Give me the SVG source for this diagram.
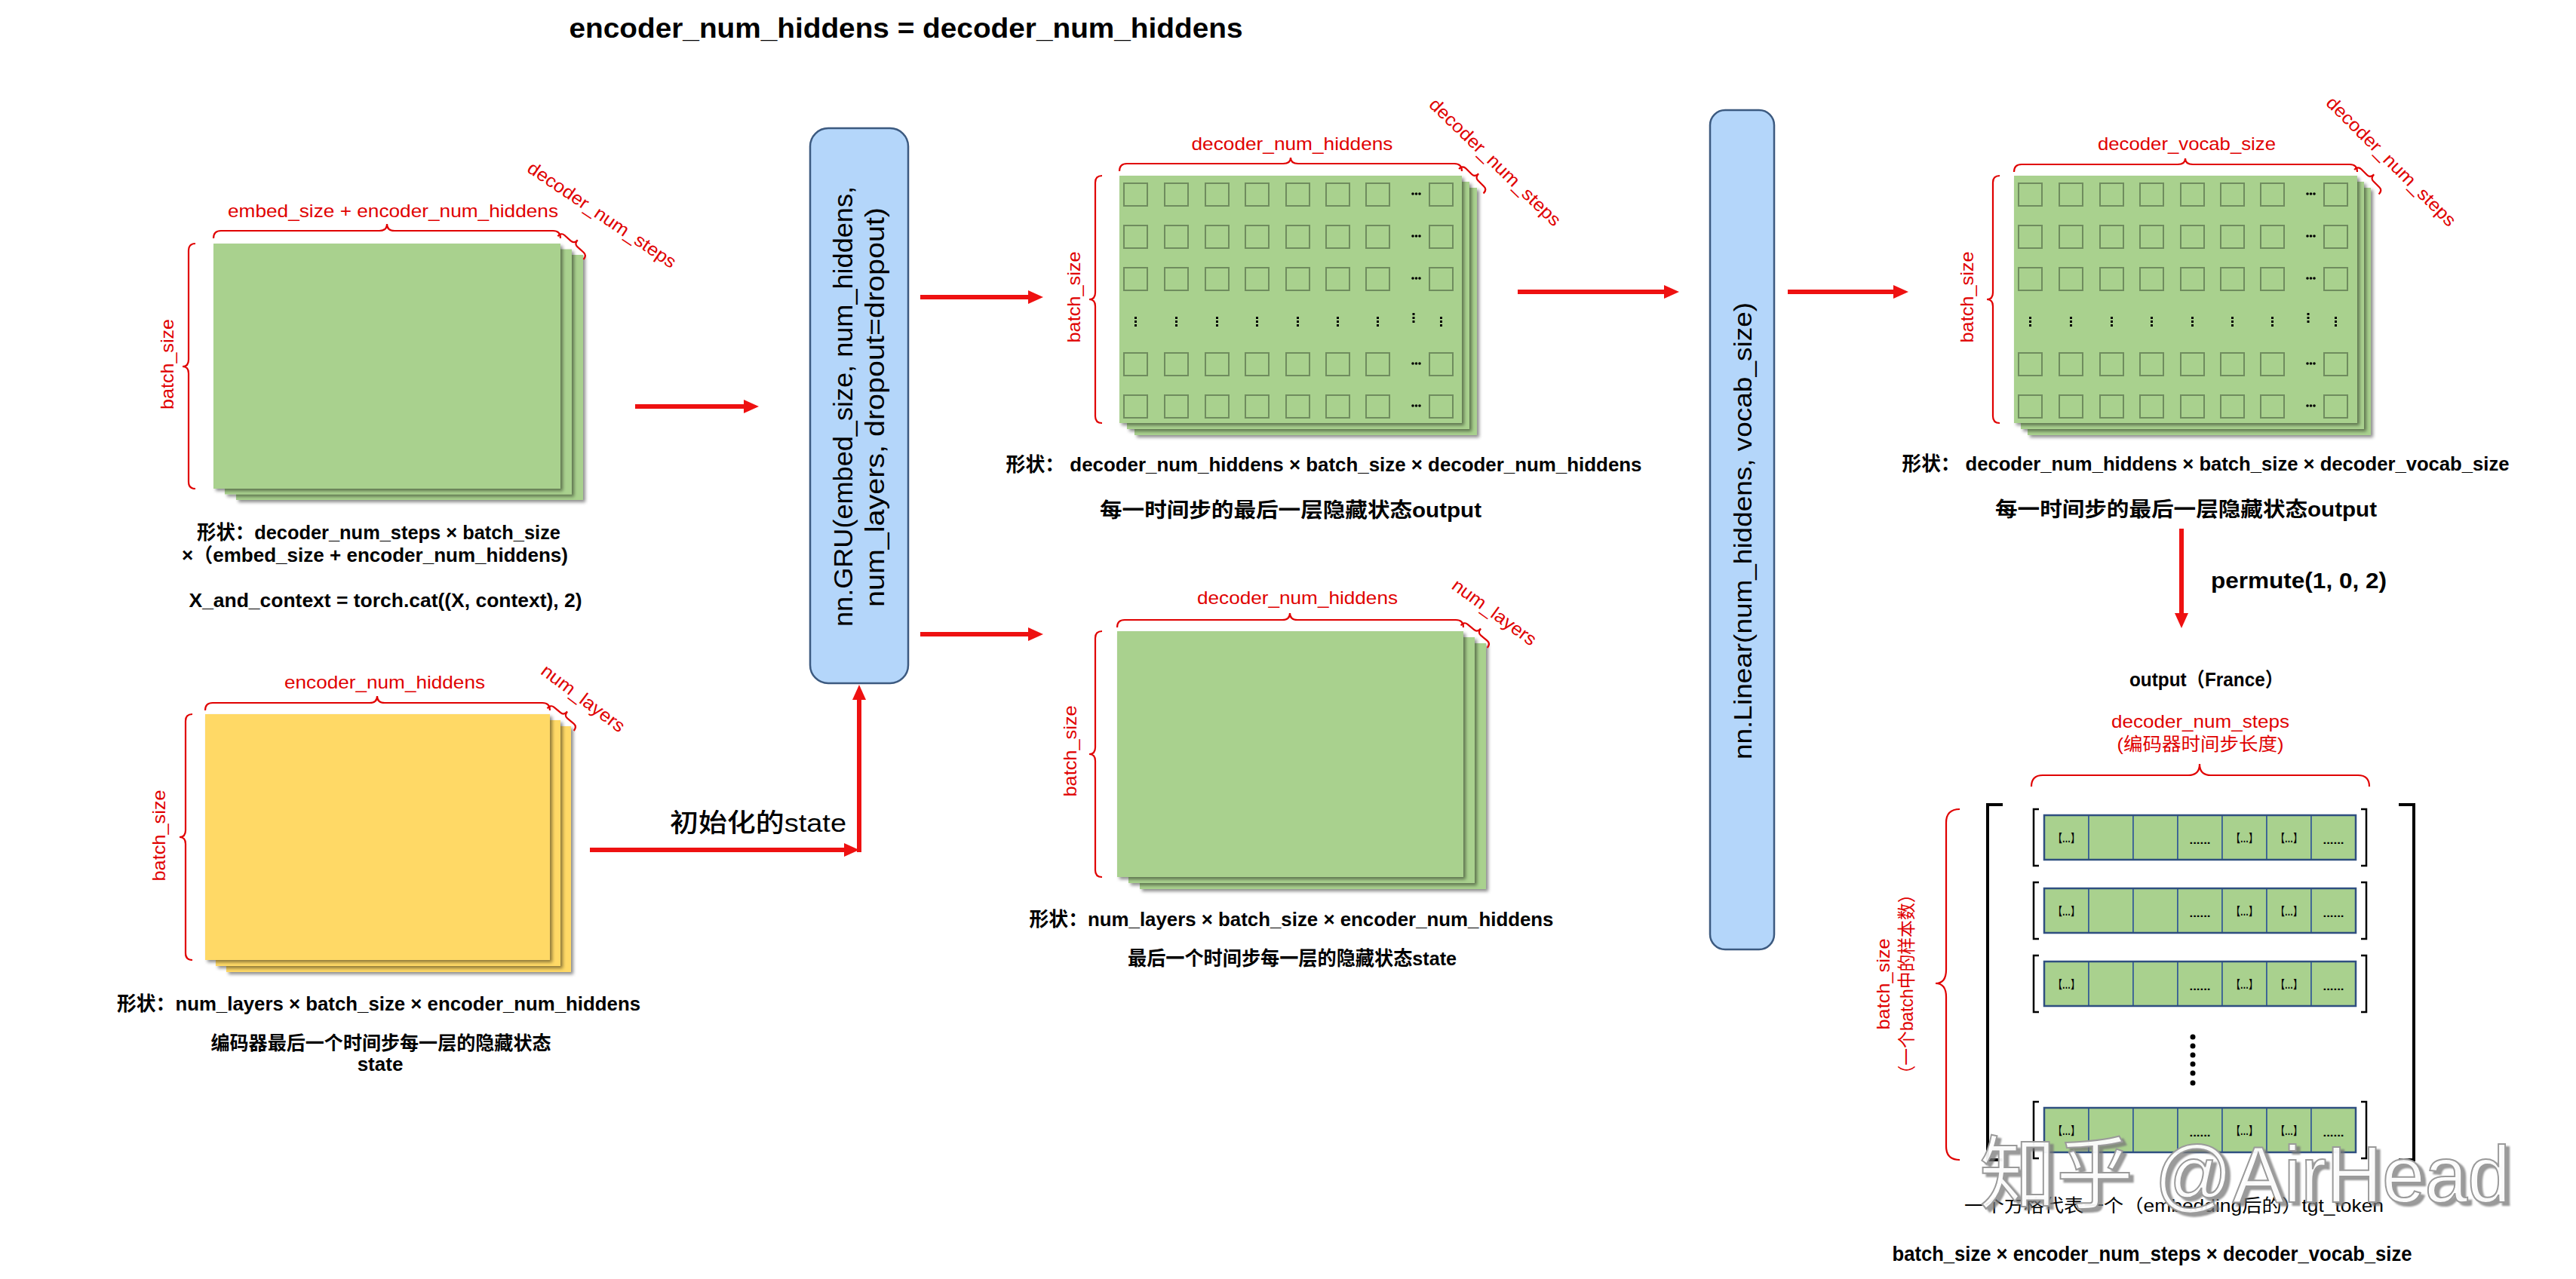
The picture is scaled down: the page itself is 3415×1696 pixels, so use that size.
<svg xmlns="http://www.w3.org/2000/svg" xmlns:xlink="http://www.w3.org/1999/xlink" width="3415" height="1696" viewBox="0 0 3415 1696">
<style>
.b{font-family:"Liberation Sans","Noto Sans CJK SC",sans-serif;font-weight:bold;fill:#000}
.n{font-family:"Liberation Sans","Noto Sans CJK SC",sans-serif;fill:#000}
.r{font-family:"Liberation Sans","Noto Sans CJK SC",sans-serif;fill:#e00000;font-size:24px}
.br{fill:none;stroke:#e00000;stroke-width:2.2}
.g{fill:#a9d18e}
.y{fill:#ffd966}
.sq{fill:none;stroke:#6f8c5e;stroke-width:2}
.vd{stroke:#000;stroke-width:3;stroke-dasharray:3,2}
.ar{stroke:#ee1111;stroke-width:6;fill:none}
.box{fill:#b4d6fa;stroke:#3c5a80;stroke-width:2.5}
.cell{fill:#a9d18e;stroke:#2f5597;stroke-width:1.5}
.bk{fill:none;stroke:#000;stroke-width:2.5}
</style>
<defs>
<filter id="sh" x="-5%" y="-5%" width="115%" height="115%"><feDropShadow dx="3" dy="3" stdDeviation="2" flood-color="#000" flood-opacity="0.45"/></filter>
<filter id="wm" x="-5%" y="-20%" width="115%" height="150%"><feDropShadow dx="5" dy="4" stdDeviation="1" flood-color="#777" flood-opacity="0.8"/></filter>
<marker id="ah" markerUnits="userSpaceOnUse" markerWidth="22" markerHeight="20" refX="10" refY="9" orient="auto"><path d="M0,0 L20,9 L0,18 z" fill="#ee1111"/></marker>
<path id="sb" d="M0,7 Q0,0 6,0 L17,0 Q23,0 23,-7 Q23,0 29,0 L40,0 Q46,0 46,7"/>
<g id="grow">
<rect class="sq" x="6" y="0" width="31" height="30"/>
<rect class="sq" x="60" y="0" width="31" height="30"/>
<rect class="sq" x="114" y="0" width="31" height="30"/>
<rect class="sq" x="167" y="0" width="31" height="30"/>
<rect class="sq" x="221" y="0" width="31" height="30"/>
<rect class="sq" x="274" y="0" width="31" height="30"/>
<rect class="sq" x="327" y="0" width="31" height="30"/>
<circle cx="389" cy="14" r="1.8"/><circle cx="393.5" cy="14" r="1.8"/><circle cx="398" cy="14" r="1.8"/>
<rect class="sq" x="411" y="0" width="31" height="30"/>
</g>
<g id="gvd">
<line class="vd" x1="21.5" y1="-6" x2="21.5" y2="7"/>
<line class="vd" x1="75.5" y1="-6" x2="75.5" y2="7"/>
<line class="vd" x1="129.5" y1="-6" x2="129.5" y2="7"/>
<line class="vd" x1="182.5" y1="-6" x2="182.5" y2="7"/>
<line class="vd" x1="236.5" y1="-6" x2="236.5" y2="7"/>
<line class="vd" x1="289.5" y1="-6" x2="289.5" y2="7"/>
<line class="vd" x1="342.5" y1="-6" x2="342.5" y2="7"/>
<line class="vd" x1="390" y1="-11" x2="390" y2="2"/>
<line class="vd" x1="426.5" y1="-6" x2="426.5" y2="7"/>
</g>
<g id="orow">
<path class="bk" d="M-7,-8 L-14,-8 L-14,67 L-7,67"/>
<path class="bk" d="M420,-8 L427,-8 L427,67 L420,67"/>
<rect class="cell" x="0" y="0" width="59" height="59"/>
<rect class="cell" x="59" y="0" width="59" height="59"/>
<rect class="cell" x="118" y="0" width="59" height="59"/>
<rect class="cell" x="177" y="0" width="59" height="59"/>
<rect class="cell" x="236" y="0" width="59" height="59"/>
<rect class="cell" x="295" y="0" width="59" height="59"/>
<rect class="cell" x="354" y="0" width="59" height="59"/>
<rect x="0" y="0" width="413" height="59" fill="none" stroke="#2f4f80" stroke-width="2.5"/>
<text class="b" x="29.5" y="36" font-size="15" text-anchor="middle" textLength="34" lengthAdjust="spacingAndGlyphs">【…】</text>
<text class="b" x="206.5" y="38" font-size="15" text-anchor="middle" textLength="28" lengthAdjust="spacingAndGlyphs">......</text>
<text class="b" x="265.5" y="36" font-size="15" text-anchor="middle" textLength="34" lengthAdjust="spacingAndGlyphs">【…】</text>
<text class="b" x="324.5" y="36" font-size="15" text-anchor="middle" textLength="34" lengthAdjust="spacingAndGlyphs">【…】</text>
<text class="b" x="383.5" y="38" font-size="15" text-anchor="middle" textLength="28" lengthAdjust="spacingAndGlyphs">......</text>
</g>
</defs>
<rect x="0" y="0" width="3415" height="1696" fill="#fff"/>

<text id="title" class="b" x="1201" y="50" font-size="36" text-anchor="middle" textLength="893" lengthAdjust="spacingAndGlyphs">encoder_num_hiddens = decoder_num_hiddens</text>

<g id="input-x-context">
<rect class="g" x="313" y="338" width="460" height="325" filter="url(#sh)"/>
<rect class="g" x="298" y="330.5" width="460" height="325" filter="url(#sh)"/>
<rect class="g" x="283" y="323" width="460" height="325" filter="url(#sh)"/>
<path class="br" d="M283,316 Q283,306 293,306 L503,306 Q513,306 513,297 Q513,306 523,306 L733,306 Q743,306 743,316"/>
<use href="#sb" class="br" transform="translate(744,308) rotate(42)"/>
<path class="br" d="M259,323 Q250,323 250,332 L250,477 Q250,486 242,486 Q250,486 250,495 L250,639 Q250,648 259,648"/>
<text class="r" x="521" y="288" text-anchor="middle" textLength="438" lengthAdjust="spacingAndGlyphs">embed_size + encoder_num_hiddens</text>
<text class="r" transform="translate(798,285) rotate(34)" x="0" y="8" text-anchor="middle" textLength="232" lengthAdjust="spacingAndGlyphs">decoder_num_steps</text>
<text class="r" transform="translate(222,483) rotate(-90)" x="0" y="8" text-anchor="middle" textLength="120" lengthAdjust="spacingAndGlyphs">batch_size</text>
<text class="b" x="502" y="715" font-size="26" text-anchor="middle" textLength="482" lengthAdjust="spacingAndGlyphs">形状：decoder_num_steps × batch_size</text>
<text class="b" x="497" y="745" font-size="26" text-anchor="middle" textLength="512" lengthAdjust="spacingAndGlyphs">×（embed_size + encoder_num_hiddens)</text>
<text class="b" x="511" y="805" font-size="26" text-anchor="middle" textLength="521" lengthAdjust="spacingAndGlyphs">X_and_context = torch.cat((X, context), 2)</text>
</g>

<g id="encoder-state">
<rect class="y" x="300" y="963" width="457" height="326" filter="url(#sh)"/>
<rect class="y" x="286" y="955" width="457" height="326" filter="url(#sh)"/>
<rect class="y" x="272" y="947" width="457" height="326" filter="url(#sh)"/>
<path class="br" d="M272,942 Q272,932 282,932 L490,932 Q500,932 500,923 Q500,932 510,932 L719,932 Q729,932 729,942"/>
<use href="#sb" class="br" transform="translate(730,934) rotate(40)"/>
<path class="br" d="M255,947 Q246,947 246,956 L246,1101 Q246,1110 238,1110 Q246,1110 246,1119 L246,1264 Q246,1273 255,1273"/>
<text class="r" x="510" y="913" text-anchor="middle" textLength="266" lengthAdjust="spacingAndGlyphs">encoder_num_hiddens</text>
<text class="r" transform="translate(773,926) rotate(37)" x="0" y="8" text-anchor="middle" textLength="132" lengthAdjust="spacingAndGlyphs">num_layers</text>
<text class="r" transform="translate(211,1108) rotate(-90)" x="0" y="8" text-anchor="middle" textLength="121" lengthAdjust="spacingAndGlyphs">batch_size</text>
<text class="b" x="502" y="1340" font-size="26" text-anchor="middle" textLength="694" lengthAdjust="spacingAndGlyphs">形状：num_layers × batch_size × encoder_num_hiddens</text>
<text class="b" x="505" y="1392" font-size="25" text-anchor="middle" textLength="451" lengthAdjust="spacingAndGlyphs">编码器最后一个时间步每一层的隐藏状态</text>
<text class="b" x="504" y="1420" font-size="26" text-anchor="middle">state</text>
</g>

<g id="gru">
<rect class="box" x="1074" y="170" width="130" height="736" rx="24"/>
<text class="n" transform="translate(1130,539) rotate(-90)" x="0" y="0" font-size="35" text-anchor="middle" textLength="584" lengthAdjust="spacingAndGlyphs">nn.GRU(embed_size, num_hiddens,</text>
<text class="n" transform="translate(1172,540) rotate(-90)" x="0" y="0" font-size="35" text-anchor="middle" textLength="530" lengthAdjust="spacingAndGlyphs">num_layers, dropout=dropout)</text>
</g>

<g id="decoder-output">
<rect class="g" x="1504" y="249" width="454" height="328" filter="url(#sh)"/>
<rect class="g" x="1494" y="241" width="454" height="328" filter="url(#sh)"/>
<rect class="g" x="1484" y="233" width="454" height="328" filter="url(#sh)"/>
<use href="#grow" x="1484" y="243"/>
<use href="#grow" x="1484" y="299"/>
<use href="#grow" x="1484" y="355"/>
<use href="#gvd" x="1484" y="426"/>
<use href="#grow" x="1484" y="468"/>
<use href="#grow" x="1484" y="524"/>
<path class="br" d="M1484,227 Q1484,217 1494,217 L1701,217 Q1711,217 1711,209 Q1711,217 1721,217 L1928,217 Q1938,217 1938,227"/>
<use href="#sb" class="br" transform="translate(1939,219) rotate(45)"/>
<path class="br" d="M1461,233 Q1452,233 1452,242 L1452,388 Q1452,397 1444,397 Q1452,397 1452,406 L1452,552 Q1452,561 1461,561"/>
<text class="r" x="1713" y="199" text-anchor="middle" textLength="267" lengthAdjust="spacingAndGlyphs">decoder_num_hiddens</text>
<text class="r" transform="translate(1982,215) rotate(44)" x="0" y="8" text-anchor="middle" textLength="232" lengthAdjust="spacingAndGlyphs">decoder_num_steps</text>
<text class="r" transform="translate(1424,394) rotate(-90)" x="0" y="8" text-anchor="middle" textLength="121" lengthAdjust="spacingAndGlyphs">batch_size</text>
<text class="b" x="1755" y="625" font-size="26" text-anchor="middle" textLength="843" lengthAdjust="spacingAndGlyphs">形状： decoder_num_hiddens × batch_size × decoder_num_hiddens</text>
<text class="b" x="1711" y="686" font-size="27" text-anchor="middle" textLength="506" lengthAdjust="spacingAndGlyphs">每一时间步的最后一层隐藏状态output</text>
</g>

<g id="decoder-state">
<rect class="g" x="1511" y="853" width="459" height="326" filter="url(#sh)"/>
<rect class="g" x="1496" y="845" width="459" height="326" filter="url(#sh)"/>
<rect class="g" x="1481" y="837" width="459" height="326" filter="url(#sh)"/>
<path class="br" d="M1481,832 Q1481,822 1491,822 L1700,822 Q1710,822 1710,813 Q1710,822 1720,822 L1930,822 Q1940,822 1940,832"/>
<use href="#sb" class="br" transform="translate(1941,824) rotate(40)"/>
<path class="br" d="M1461,837 Q1452,837 1452,846 L1452,991 Q1452,1000 1444,1000 Q1452,1000 1452,1009 L1452,1154 Q1452,1163 1461,1163"/>
<text class="r" x="1720" y="801" text-anchor="middle" textLength="266" lengthAdjust="spacingAndGlyphs">decoder_num_hiddens</text>
<text class="r" transform="translate(1981,812) rotate(36)" x="0" y="8" text-anchor="middle" textLength="132" lengthAdjust="spacingAndGlyphs">num_layers</text>
<text class="r" transform="translate(1419,996) rotate(-90)" x="0" y="8" text-anchor="middle" textLength="121" lengthAdjust="spacingAndGlyphs">batch_size</text>
<text class="b" x="1712" y="1228" font-size="26" text-anchor="middle" textLength="695" lengthAdjust="spacingAndGlyphs">形状：num_layers × batch_size × encoder_num_hiddens</text>
<text class="b" x="1713" y="1280" font-size="26" text-anchor="middle" textLength="436" lengthAdjust="spacingAndGlyphs">最后一个时间步每一层的隐藏状态state</text>
</g>

<g id="linear">
<rect class="box" x="2267" y="146" width="85" height="1113" rx="20"/>
<text class="n" transform="translate(2322,704) rotate(-90)" x="0" y="0" font-size="33" text-anchor="middle" textLength="606" lengthAdjust="spacingAndGlyphs">nn.Linear(num_hiddens, vocab_size)</text>
</g>

<g id="linear-output">
<rect class="g" x="2688" y="249" width="455" height="328" filter="url(#sh)"/>
<rect class="g" x="2679" y="241" width="455" height="328" filter="url(#sh)"/>
<rect class="g" x="2670" y="233" width="455" height="328" filter="url(#sh)"/>
<use href="#grow" x="2670" y="243"/>
<use href="#grow" x="2670" y="299"/>
<use href="#grow" x="2670" y="355"/>
<use href="#gvd" x="2670" y="426"/>
<use href="#grow" x="2670" y="468"/>
<use href="#grow" x="2670" y="524"/>
<path class="br" d="M2670,228 Q2670,218 2680,218 L2887,218 Q2897,218 2897,210 Q2897,218 2907,218 L3115,218 Q3125,218 3125,228"/>
<use href="#sb" class="br" transform="translate(3126,220) rotate(45)"/>
<path class="br" d="M2651,233 Q2642,233 2642,242 L2642,388 Q2642,397 2634,397 Q2642,397 2642,406 L2642,552 Q2642,561 2651,561"/>
<text class="r" x="2899" y="199" text-anchor="middle" textLength="236" lengthAdjust="spacingAndGlyphs">decoder_vocab_size</text>
<text class="r" transform="translate(3170,214) rotate(45)" x="0" y="8" text-anchor="middle" textLength="232" lengthAdjust="spacingAndGlyphs">decoder_num_steps</text>
<text class="r" transform="translate(2608,394) rotate(-90)" x="0" y="8" text-anchor="middle" textLength="121" lengthAdjust="spacingAndGlyphs">batch_size</text>
<text class="b" x="2924" y="624" font-size="26" text-anchor="middle" textLength="805" lengthAdjust="spacingAndGlyphs">形状： decoder_num_hiddens × batch_size × decoder_vocab_size</text>
<text class="b" x="2898" y="685" font-size="27" text-anchor="middle" textLength="506" lengthAdjust="spacingAndGlyphs">每一时间步的最后一层隐藏状态output</text>
</g>

<g id="final-output">
<text class="b" x="2925" y="910" font-size="26" text-anchor="middle" textLength="204" lengthAdjust="spacingAndGlyphs">output（France）</text>
<text class="r" x="2917" y="965" text-anchor="middle" textLength="236" lengthAdjust="spacingAndGlyphs">decoder_num_steps</text>
<text class="r" x="2917" y="995" text-anchor="middle" textLength="221" lengthAdjust="spacingAndGlyphs">(编码器时间步长度)</text>
<path class="br" d="M2693,1043 Q2693,1028 2708,1028 L2901,1028 Q2916,1028 2916,1013 Q2916,1028 2931,1028 L3126,1028 Q3141,1028 3141,1043"/>
<path class="br" d="M2598,1073 Q2580,1073 2580,1091 L2580,1286 Q2580,1304 2566,1304 Q2580,1304 2580,1322 L2580,1520 Q2580,1538 2598,1538"/>
<text class="r" transform="translate(2505,1305) rotate(-90)" x="0" y="0" text-anchor="middle" textLength="121" lengthAdjust="spacingAndGlyphs">batch_size</text>
<text class="r" transform="translate(2536,1305) rotate(-90)" x="0" y="0" text-anchor="middle" textLength="261" lengthAdjust="spacingAndGlyphs">（一个batch中的样本数）</text>
<path d="M2655,1067 L2635,1067 L2635,1538 L2655,1538" fill="none" stroke="#000" stroke-width="4"/>
<path d="M3180,1067 L3200,1067 L3200,1538 L3180,1538" fill="none" stroke="#000" stroke-width="4"/>
<use href="#orow" x="2710" y="1081"/>
<use href="#orow" x="2710" y="1178"/>
<use href="#orow" x="2710" y="1275"/>
<use href="#orow" x="2710" y="1469"/>
<circle cx="2907" cy="1375" r="3.5"/><circle cx="2907" cy="1387" r="3.5"/><circle cx="2907" cy="1399" r="3.5"/><circle cx="2907" cy="1411" r="3.5"/><circle cx="2907" cy="1423" r="3.5"/><circle cx="2907" cy="1436" r="3.5"/>
<text class="n" x="2882" y="1607" font-size="24" text-anchor="middle" textLength="556" lengthAdjust="spacingAndGlyphs">一个方格代表一个（embedding后的）tgt_token</text>
<text class="b" x="2853" y="1672" font-size="28" text-anchor="middle" textLength="689" lengthAdjust="spacingAndGlyphs">batch_size × encoder_num_steps × decoder_vocab_size</text>
</g>

<g id="connectors">
<line class="ar" x1="842" y1="539" x2="996" y2="539" marker-end="url(#ah)"/>
<line class="ar" x1="1220" y1="394" x2="1373" y2="394" marker-end="url(#ah)"/>
<line class="ar" x1="1220" y1="841" x2="1373" y2="841" marker-end="url(#ah)"/>
<line class="ar" x1="782" y1="1127" x2="1129" y2="1127" marker-end="url(#ah)"/>
<line class="ar" x1="1139" y1="1130" x2="1139" y2="918" marker-end="url(#ah)"/>
<line class="ar" x1="2012" y1="387" x2="2216" y2="387" marker-end="url(#ah)"/>
<line class="ar" x1="2370" y1="387" x2="2520" y2="387" marker-end="url(#ah)"/>
<line class="ar" x1="2892" y1="701" x2="2892" y2="823" marker-end="url(#ah)"/>
<text class="n" x="1005" y="1103" font-size="34" font-weight="500" text-anchor="middle" textLength="234" lengthAdjust="spacingAndGlyphs">初始化的state</text>
<text class="b" x="2931" y="780" font-size="30" textLength="233" lengthAdjust="spacingAndGlyphs">permute(1, 0, 2)</text>
</g>

<g id="watermark">
<text x="2624" y="1594" font-family="'Liberation Sans','Noto Sans CJK SC',sans-serif" font-size="106" fill="#ffffff" fill-opacity="0.92" stroke="#9a9a9a" stroke-width="2" filter="url(#wm)" textLength="704" lengthAdjust="spacingAndGlyphs">知乎 @AirHead</text>
</g>
</svg>
